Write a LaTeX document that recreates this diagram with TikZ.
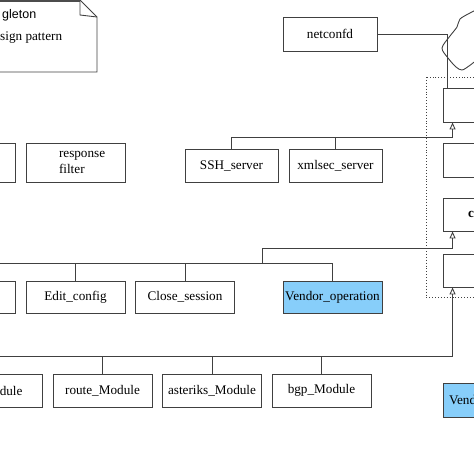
\documentclass[tikz,border=0pt]{standalone}
\usepackage{fontspec}
\setmainfont{Liberation Serif}
\newfontfamily\notefont{Liberation Sans}
\usetikzlibrary{arrows.meta, calc}
\definecolor{vendorblue}{RGB}{135,206,250}

\begin{document}
\begin{tikzpicture}[x=1pt,y=-1pt,
		font=\fontsize{13.2}{15.8}\selectfont,
		link/.style={line width=0.9pt,black!75},
		inherit/.style={link,-{Triangle[open,length=7pt,width=6pt]}},
		cls/.style={rectangle,draw=black!75,line width=0.9pt,minimum width=99pt,minimum height=33pt,inner sep=1pt},
		vendor/.style={cls,fill=vendorblue}]
		\useasboundingbox (0,0) rectangle (474,474);
		\clip (0,0) rectangle (474,474);
		%\draw[gray,step=50] (0,0) grid (474,474);

		% design pattern note
		\draw[link] (-10,72) -- (97,72) -- (97,17) -- (80,0);
		\draw[link] (80,0) -- (80,15) -- (97,17);
		\draw[line width=2pt,black!70] (-10,1) -- (80,1);
		\node[anchor=base west,inner sep=0pt,font=\notefont\fontsize{12.5}{15}\selectfont] (notetitle) at (2,18) {gleton};
		\node[anchor=base west,inner sep=0pt] (notebody) at (0,40) {sign pattern};

		% netconfd and the cloud
		\node[cls,minimum width=94pt,minimum height=34pt] (netconfd) at (330,34) {netconfd};
		\draw[link] plot[smooth] coordinates {(478,9) (470,13) (460,19) (457,27) (450,36) (442,48) (448,58) (456,67) (462,70) (469,66) (478,59)};

		% right column
		\draw[link,dotted] (426,77) rectangle (520,297);
		\node[cls,minimum height=34pt] (agent) at (492.5,105) {};
		\node[cls,minimum height=34pt] (store) at (492.5,160) {};
		\node[cls,text width=49pt,inner xsep=25pt,align=left] (core) at (492.5,214.5) {\textbf{c}};
		\node[cls] (handler) at (492.5,270.5) {};

		% filters and servers
		\node[cls,minimum height=39pt] (reqfilter) at (-34,162.5) {};
		\node[cls,minimum height=39pt,text width=33pt,inner xsep=33pt,align=left] (respfilter) at (75.5,162.5) {\mbox{response}\\\mbox{filter}};
		\node[cls,minimum width=93pt] (ssh) at (231.5,165.5) {SSH\_server};
		\node[cls,minimum width=93pt] (xmlsec) at (335.5,165.5) {xmlsec\_server};

		% operations
		\node[cls,minimum height=32pt] (getop) at (-34,297) {};
		\node[cls,minimum height=32pt] (editop) at (75.5,297) {Edit\_config};
		\node[cls,minimum height=32pt] (closeop) at (185,297) {Close\_session};
		\node[vendor,minimum height=32pt] (vendorop) at (332.5,297) {Vendor\_operation};

		% modules
		\node[cls,text width=60pt,inner xsep=19.5pt,align=right] (firstmod) at (-7.5,390.5) {dule};
		\node[cls] (routemod) at (102.5,390.5) {route\_Module};
		\node[cls] (asterisk) at (212,390.5) {asteriks\_Module};
		\node[cls] (bgpmod) at (321.5,390.5) {bgp\_Module};
		\node[vendor,minimum height=34pt,text width=87pt,inner xsep=6pt,align=left] (vendormod) at (492.5,400) {Vend};

		\coordinate (in1) at ($(agent.south west)+(10,0)$);
		\coordinate (in3) at ($(core.south west)+(10,0)$);
		\coordinate (in4) at ($(handler.south west)+(10,0)$);
		\coordinate (opbus) at (262,264);

		\draw[link] (netconfd.east) -| ($(agent.north west)+(5,0)$);

		\draw[inherit] (ssh.north) -- ++(0,-11) -| (in1);
		\draw[link] (xmlsec.north) -- ++(0,-11);

		\draw[link] (getop.north) -- ++(0,-17) -| (vendorop.north);
		\foreach \op in {editop,closeop}
			\draw[link] (\op.north) -- ++(0,-17);
		\draw[inherit] (opbus) -- ++(0,-16) -| (in3);

		\draw[inherit] (firstmod.north) -- ++(0,-17) -| (in4);
		\foreach \m in {routemod,asterisk,bgpmod}
			\draw[link] (\m.north) -- ++(0,-17);

	\end{tikzpicture}
\end{document}
